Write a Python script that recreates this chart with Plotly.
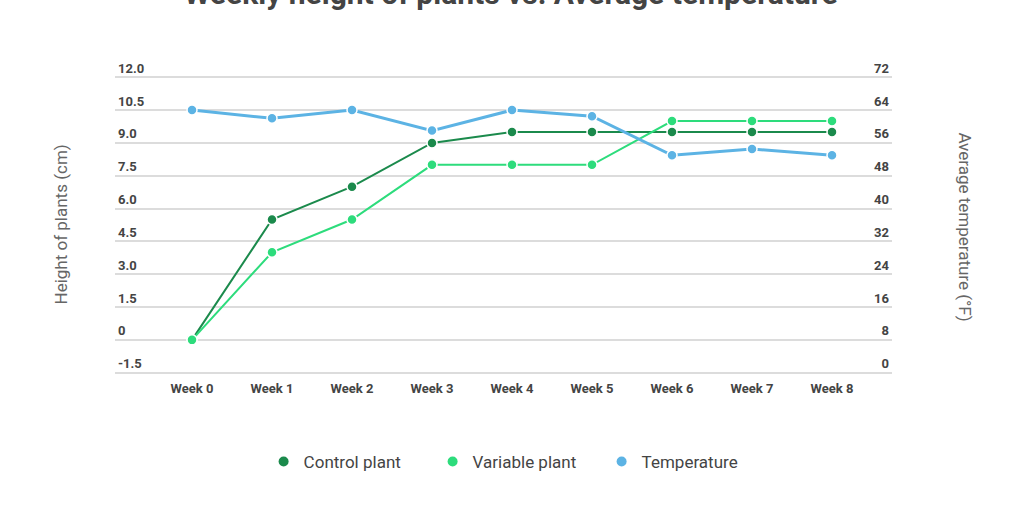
import plotly.graph_objects as go

weeks = ["Week 0", "Week 1", "Week 2", "Week 3", "Week 4", "Week 5", "Week 6", "Week 7", "Week 8"]
control = [0, 5.5, 7.0, 9.0, 9.5, 9.5, 9.5, 9.5, 9.5]
variable = [0, 4.0, 5.5, 8.0, 8.0, 8.0, 10.0, 10.0, 10.0]
temperature = [64, 62, 64, 59, 64, 62.5, 53, 54.5, 53]

left_ticks = [-1.5, 0, 1.5, 3.0, 4.5, 6.0, 7.5, 9.0, 10.5, 12.0]
left_text = ["-1.5", "0", "1.5", "3.0", "4.5", "6.0", "7.5", "9.0", "10.5", "12.0"]
right_ticks = [0, 8, 16, 24, 32, 40, 48, 56, 64, 72]

C_CONTROL = "#1b8a4c"
C_VAR = "#2ddc7c"
C_TEMP = "#5cb3e4"
FONT = "Roboto"
TXT = "#444444"

fig = go.Figure()
fig.add_trace(go.Scatter(x=weeks, y=control, mode="lines+markers", name="Control plant",
                         line=dict(color=C_CONTROL, width=2),
                         marker=dict(size=10, color=C_CONTROL, line=dict(color="white", width=1.5)),
                         showlegend=False))
fig.add_trace(go.Scatter(x=weeks, y=variable, mode="lines+markers", name="Variable plant",
                         line=dict(color=C_VAR, width=2),
                         marker=dict(size=10, color=C_VAR, line=dict(color="white", width=1.5)),
                         showlegend=False))
fig.add_trace(go.Scatter(x=weeks, y=temperature, mode="lines+markers", name="Temperature",
                         yaxis="y2",
                         line=dict(color=C_TEMP, width=3),
                         marker=dict(size=10, color=C_TEMP, line=dict(color="white", width=1.5)),
                         showlegend=False))
# legend entries (dot only)
for nm, c in [("Control plant", C_CONTROL), ("Variable plant", C_VAR), ("Temperature", C_TEMP)]:
    fig.add_trace(go.Scatter(x=[None], y=[None], mode="markers", name=nm,
                             marker=dict(size=10, color=c)))

fig.update_layout(
    width=1024, height=512,
    margin=dict(l=115, r=132, t=60, b=136),
    paper_bgcolor="white", plot_bgcolor="white",
    font=dict(family=FONT, color=TXT),
    xaxis=dict(type="category", range=[-0.9625, 8.75], showgrid=False, zeroline=False,
               showline=False, ticks="",
               tickfont=dict(size=13, color=TXT, family=FONT, weight="bold"),
               ticklabelstandoff=3),
    yaxis=dict(range=[-1.651, 12.79], tickvals=left_ticks, ticktext=left_text,
               showgrid=True, gridcolor="#dcdcdc", gridwidth=2, zeroline=False,
               ticklabelposition="inside top",
               tickfont=dict(size=13, color=TXT, family=FONT, weight="bold"),
               showline=False, ticks=""),
    yaxis2=dict(range=[-0.805, 76.21], tickvals=right_ticks, overlaying="y", side="right",
                showgrid=False, zeroline=False, ticklabelposition="inside top",
                tickfont=dict(size=13, color=TXT, family=FONT, weight="bold"),
                showline=False, ticks=""),
    legend=dict(orientation="h", xref="container", x=0.505, xanchor="center",
                yref="container", y=1 - 462 / 512, yanchor="middle",
                entrywidth=124, entrywidthmode="pixels",
                font=dict(size=17, color=TXT, family=FONT)),
    annotations=[
        dict(text="<b>Weekly height of plants vs. Average temperature</b>",
             xref="paper", yref="paper", x=0.5097, y=1.209, showarrow=False,
             xanchor="center", yanchor="middle",
             font=dict(size=30, color=TXT, family=FONT)),
        dict(text="Height of plants (cm)", xref="paper", yref="paper", x=-0.0701, y=0.478,
             textangle=-90, showarrow=False, font=dict(size=17, color="#666666", family=FONT),
             xanchor="center", yanchor="middle"),
        dict(text="Average temperature (°F)", xref="paper", yref="paper", x=1.0945, y=0.472,
             textangle=90, showarrow=False, font=dict(size=17, color="#666666", family=FONT),
             xanchor="center", yanchor="middle"),
    ],
)

fig.write_html("out.html")
